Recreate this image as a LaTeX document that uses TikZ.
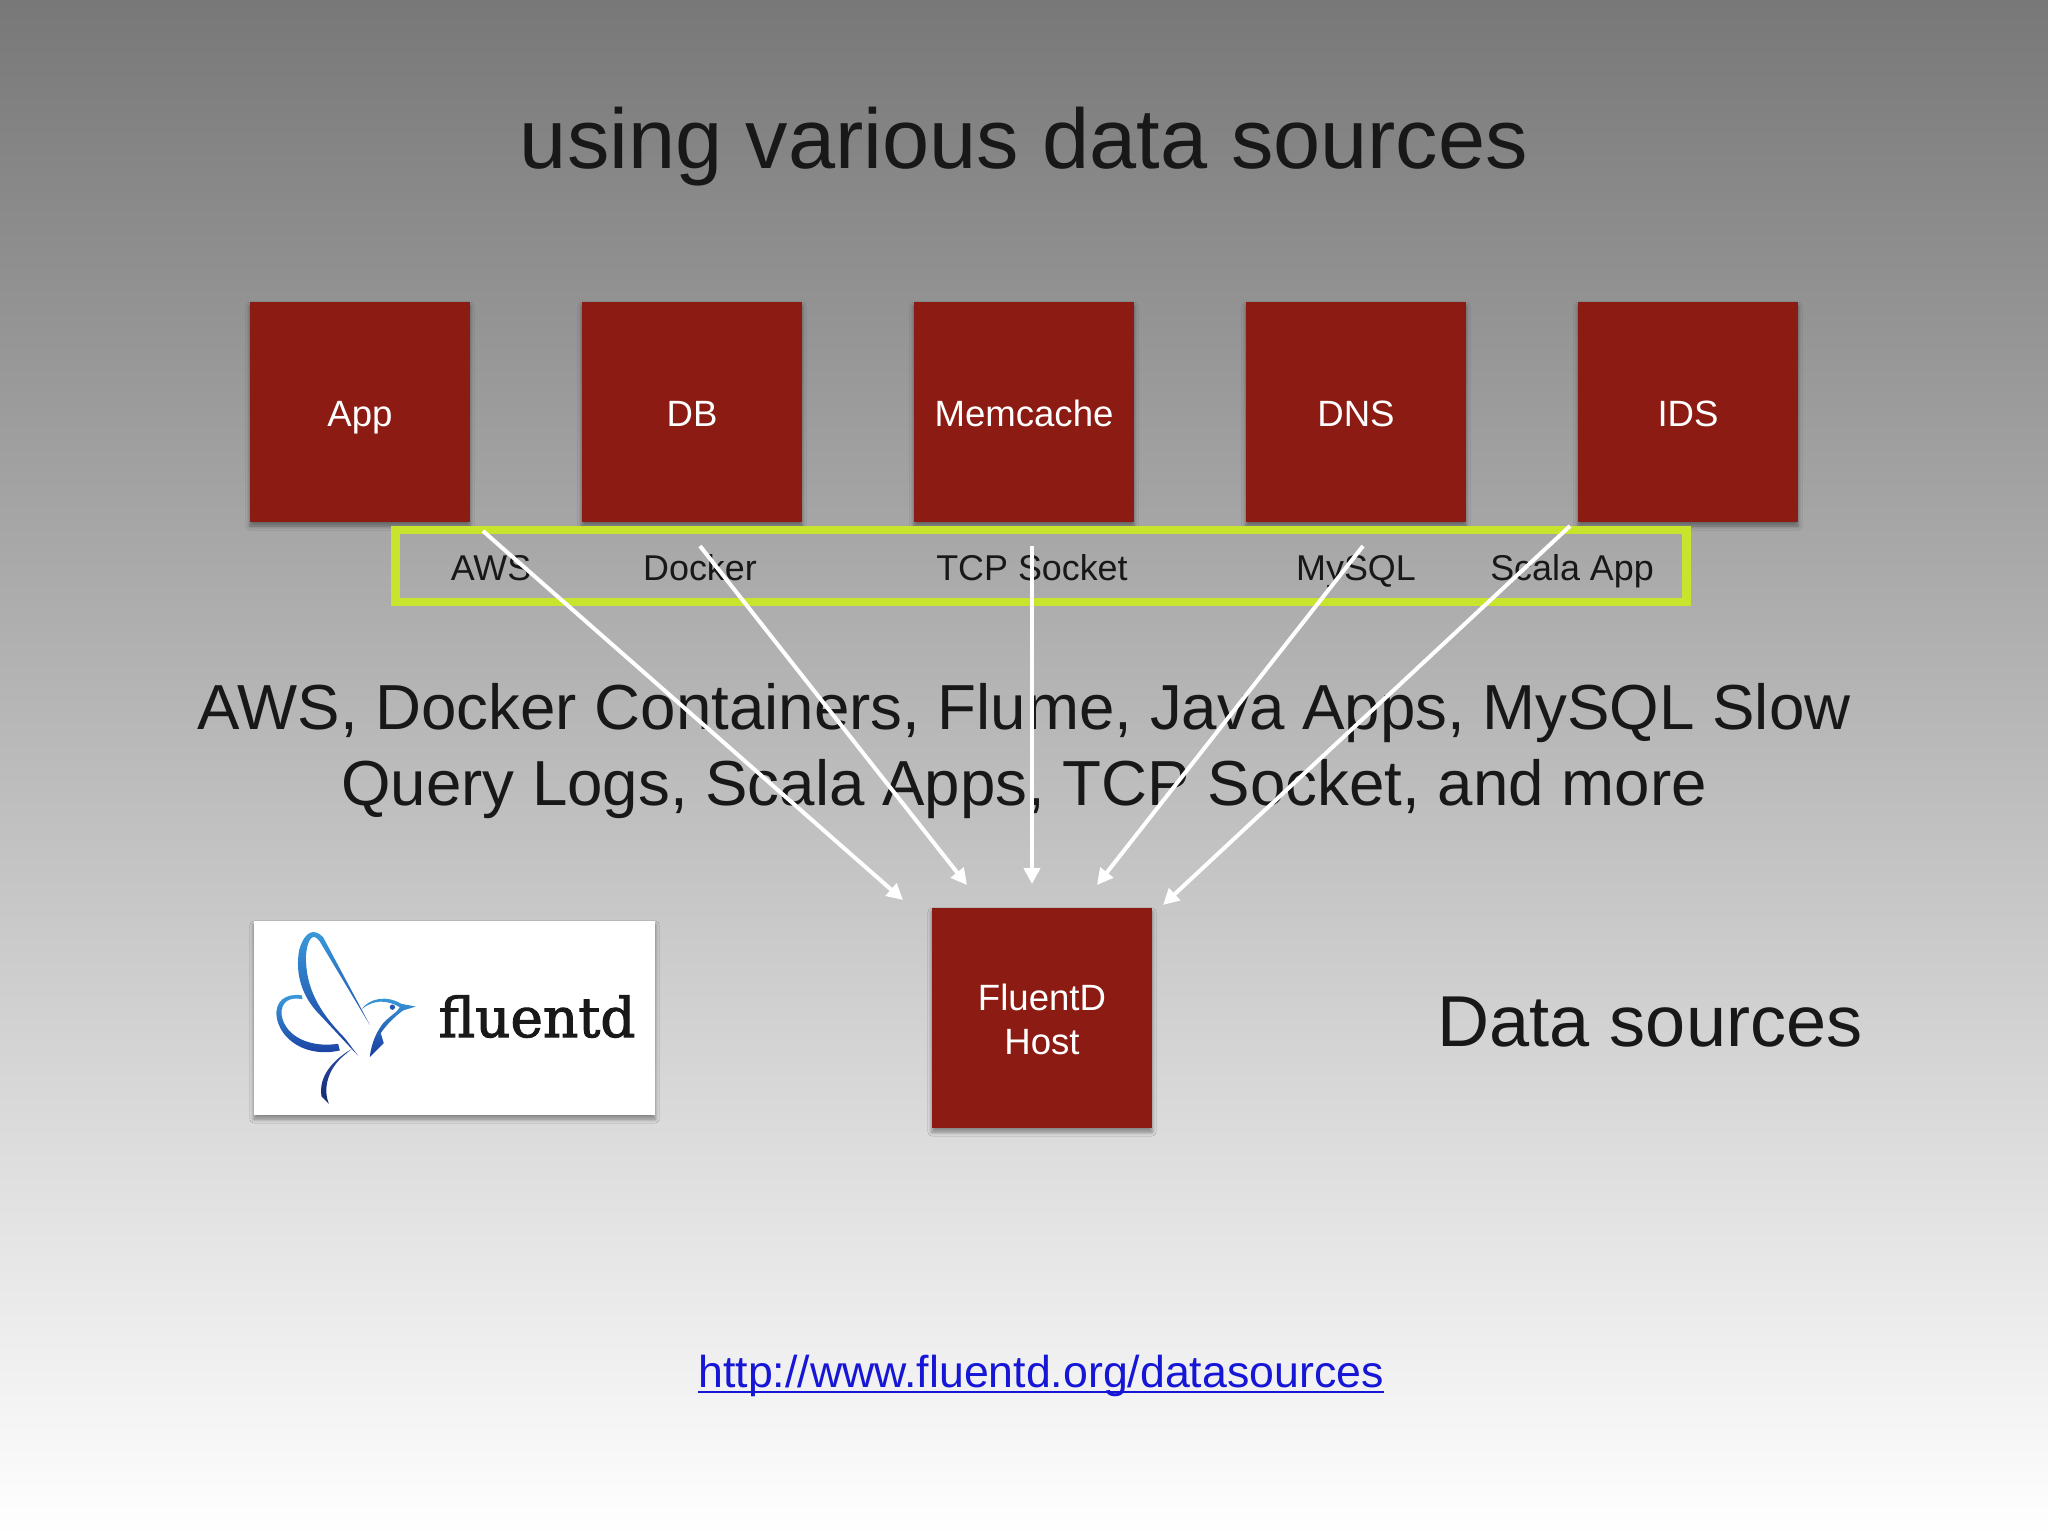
\documentclass[tikz,border=0pt]{standalone}
\usepackage{fontspec}
\setmainfont{Liberation Sans}
\newfontfamily\logofont[RawFeature={embolden=1.8}]{DejaVu Serif}
\usepackage{tikz}
\usetikzlibrary{shapes,arrows,arrows.meta,shadows,shadows.blur}
\definecolor{boxred}{RGB}{140,28,19}
\definecolor{framegreen}{RGB}{200,228,44}
\definecolor{linkblue}{RGB}{22,22,214}
\definecolor{inktext}{RGB}{24,24,24}
\definecolor{birdlight}{RGB}{58,156,220}
\definecolor{birddark}{RGB}{24,58,158}

\begin{document}
\begin{tikzpicture}
		[
		x = 0.01cm, y = -0.01cm,
		softshadow/.style = {blur shadow = {shadow xshift = 0pt, shadow yshift = -0.04cm, shadow blur radius = 0.04cm, shadow opacity = 40}},
		hostbox/.style = {fill = boxred, minimum size = 2.2cm, inner sep = 0pt, text = white, align = center,
			text height = 0.36cm, text depth = 0.08cm,
			font = \fontsize{10.4}{12.5}\selectfont, softshadow},
		sourcelabel/.style = {anchor = base, inner sep = 0pt, text = inktext, font = \fontsize{10.2}{12.3}\selectfont},
		bigtext/.style = {anchor = base, inner sep = 0pt, text = inktext},
		feed/.style = {white, line width = 0.04cm, -{Triangle[length = 0.16cm, width = 0.16cm]}}
		]
		
		\useasboundingbox (0,0) rectangle (2048,1536);
		\shade [top color = black!53, bottom color = white] (0,0) rectangle (2048,1536);
		
		\node [bigtext, font = \fontsize{24.1}{29}\selectfont] (title) at (1024,168) {using various data sources};
		
		% sources row
		\node [hostbox] (app) at (360,412) {App};
		\node [hostbox] (db) at (692,412) {DB};
		\node [hostbox] (memcache) at (1024,412) {Memcache};
		\node [hostbox] (dns) at (1356,412) {DNS};
		\node [hostbox] (ids) at (1688,412) {IDS};
		
		\node [draw = framegreen, line width = 0.085cm, minimum width = 12.9cm, minimum height = 0.72cm, inner sep = 0pt] (frame) at (1041,566) {};
		
		\node [sourcelabel] (aws) at (491,580) {AWS};
		\node [sourcelabel] (docker) at (700,580) {Docker};
		\node [sourcelabel] (tcp) at (1032,580) {TCP Socket};
		\node [sourcelabel] (mysql) at (1356,580) {MySQL};
		\node [sourcelabel] (scala) at (1572,580) {Scala App};
		
		\node [bigtext, align = center, font = \fontsize{18.1}{21.6}\selectfont] (sources) at (1024,805)
		{AWS, Docker Containers, Flume, Java Apps, MySQL Slow\\Query Logs, Scala Apps, TCP Socket, and more};
		
		\node [hostbox, text height = 0.72cm, text depth = 0cm] (fluent) at (1042,1018) {FluentD\\Host};
		
		\node [bigtext, font = \fontsize{20.5}{24}\selectfont] (datasources) at (1650,1046) {Data sources};
		\node [bigtext, text = linkblue, font = \fontsize{12.7}{15}\selectfont] (link) at (1041,1387) {\underline{\smash{http://www.fluentd.org/datasources}}};
		
		% logo
		\node [fill = white, minimum width = 4.01cm, minimum height = 1.94cm, inner sep = 0pt, softshadow] (logo) at (454.5,1018) {};
		\node [anchor = base, inner sep = 0pt, text = black!90, font = \logofont\fontsize{15.6}{17}\selectfont] (logotext) at (537,1037) {fluentd};
		\begin{scope}[shift = {(230,900)}, x = 0.003333cm, y = -0.003333cm]
			% upper wing
			\shade [top color = birdlight, bottom color = birddark]
				(420,375) -- (280,112) .. controls (255,85) and (225,90) .. (208,150)
				.. controls (195,220) and (215,290) .. (270,345) -- (385,468) -- (345,415)
				.. controls (262,330) and (228,260) .. (228,170) .. controls (232,115) and (250,95) .. (270,125) -- cycle;
			% lower wing
			\shade [top color = birdlight, bottom color = birddark]
				(215,286) .. controls (165,280) and (135,305) .. (140,350)
				.. controls (150,420) and (230,475) .. (330,452) -- (325,432)
				.. controls (240,445) and (165,410) .. (155,345) .. controls (152,305) and (180,290) .. (218,298) -- cycle;
			% tail
			\shade [top color = birddark!90, bottom color = birddark!70!black]
				(365,448) .. controls (310,480) and (265,530) .. (275,590) -- (297,612)
				.. controls (280,570) and (290,510) .. (345,465) -- cycle;
			% head and breast
			\shade [top color = birdlight, bottom color = birddark]
				(395,328) .. controls (420,295) and (470,285) .. (515,312) -- (558,320) -- (520,332)
				.. controls (495,350) and (470,375) .. (453,400) -- (462,430) -- (420,472)
				.. controls (425,430) and (440,395) .. (462,368) .. controls (485,345) and (505,335) .. (510,322)
				.. controls (470,298) and (430,300) .. (395,328) -- cycle;
			\fill [birddark!70!birdlight] (488,322) circle [radius = 8];
		\end{scope}
		
		% feed lines, drawn over the text
		\coordinate (awsstart) at (483,531);
		\coordinate (dockerstart) at (700,546);
		\coordinate (tcpstart) at (1032,546);
		\coordinate (mysqlstart) at (1363,546);
		\coordinate (scalastart) at (1570,526);
		\coordinate (awsend) at (903,900);
		\coordinate (dockerend) at (967,885);
		\coordinate (tcpend) at (1032,884);
		\coordinate (mysqlend) at (1097,885);
		\coordinate (scalaend) at (1163,905);
		\draw [feed] (awsstart) -- (awsend);
		\draw [feed] (dockerstart) -- (dockerend);
		\draw [feed] (tcpstart) -- (tcpend);
		\draw [feed] (mysqlstart) -- (mysqlend);
		\draw [feed] (scalastart) -- (scalaend);
		
\end{tikzpicture}
\end{document}
